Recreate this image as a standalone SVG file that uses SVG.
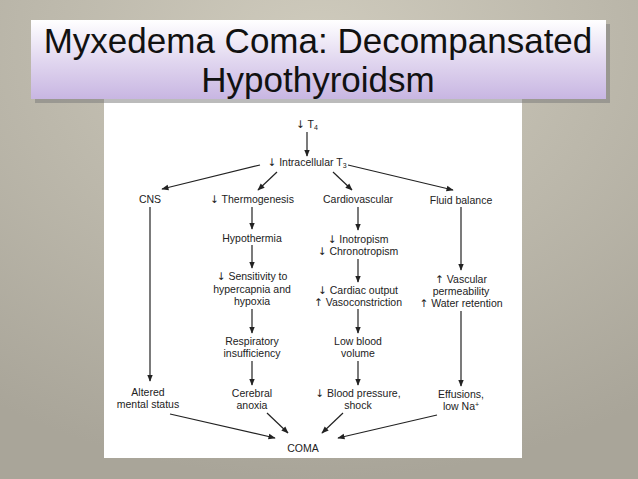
<svg xmlns="http://www.w3.org/2000/svg" width="638" height="479" viewBox="0 0 638 479">
<defs>
<radialGradient id="bg" cx="50%" cy="10%" r="90%"><stop offset="0" stop-color="#cfcbbd"/><stop offset="1" stop-color="#a9a599"/></radialGradient>
<linearGradient id="tb" x1="0" y1="0" x2="0" y2="1"><stop offset="0" stop-color="#ffffff"/><stop offset="0.5" stop-color="#e2d8f0"/><stop offset="1" stop-color="#c8b6e2"/></linearGradient>
<marker id="a" viewBox="0 0 10 10" refX="9" refY="5" markerWidth="6" markerHeight="6" orient="auto"><path d="M0,1 L10,5 L0,9 z" fill="#222"/></marker>
</defs>
<style>
.t{font-family:"Liberation Sans",Arial,sans-serif;font-size:10.5px;fill:#222;text-anchor:middle}
.r{font-family:"DejaVu Sans",sans-serif;fill:#222}
.h{font-family:"Liberation Sans",Arial,sans-serif;font-size:35px;fill:#111;text-anchor:middle}
#c line{stroke:#222;stroke-width:1.2;marker-end:url(#a)}
</style>
<rect width="638" height="479" fill="url(#bg)"/>
<rect x="104" y="98" width="418" height="360" fill="#fff"/>
<rect x="33" y="22" width="575" height="79" fill="#777" opacity="0.5" transform="translate(2,2)"/>
<rect x="31" y="20" width="575" height="79" fill="url(#tb)"/>
<text class="h" x="318" y="53">Myxedema Coma: Decompansated</text>
<text class="h" x="318" y="92">Hypothyroidsm</text>
<g id="c">
<line x1="307" y1="132" x2="307" y2="156"/>
<line x1="260" y1="165" x2="162" y2="189"/>
<line x1="277" y1="172" x2="258" y2="190"/>
<line x1="333" y1="172" x2="352" y2="190"/>
<line x1="348" y1="165" x2="453" y2="190"/>
<line x1="150" y1="207" x2="150" y2="381"/>
<line x1="252" y1="207" x2="252" y2="229"/>
<line x1="252" y1="245" x2="252" y2="268"/>
<line x1="252" y1="309" x2="252" y2="333"/>
<line x1="252" y1="361" x2="252" y2="385"/>
<line x1="358" y1="207" x2="358" y2="230"/>
<line x1="358" y1="259" x2="358" y2="282"/>
<line x1="358" y1="309" x2="358" y2="333"/>
<line x1="358" y1="361" x2="358" y2="385"/>
<line x1="461" y1="207" x2="461" y2="270"/>
<line x1="461" y1="311" x2="461" y2="386"/>
<line x1="170" y1="414" x2="275" y2="438"/>
<line x1="267" y1="413" x2="288" y2="433"/>
<line x1="343" y1="413" x2="322" y2="433"/>
<line x1="437" y1="415" x2="338" y2="438"/>
</g>
<g id="n1"><text class="t" x="307" y="128"><tspan class="r">↓</tspan> T<tspan font-size="7" dy="2">4</tspan></text></g>
<g id="n2"><text class="t" x="307" y="166"><tspan class="r">↓</tspan> Intracellular T<tspan font-size="7" dy="2">3</tspan></text></g>
<g id="n3"><text class="t" x="150" y="203">CNS</text></g>
<g id="n4"><text class="t" x="252" y="203"><tspan class="r">↓</tspan> Thermogenesis</text></g>
<g id="n5"><text class="t" x="358" y="203">Cardiovascular</text></g>
<g id="n6"><text class="t" x="461" y="204">Fluid balance</text></g>
<g id="n7"><text class="t" x="252" y="242">Hypothermia</text></g>
<g id="n8"><text class="t" x="252" y="280"><tspan class="r">↓</tspan> Sensitivity to</text><text class="t" x="252" y="293">hypercapnia and</text><text class="t" x="252" y="305">hypoxia</text></g>
<g id="n9"><text class="t" x="252" y="345">Respiratory</text><text class="t" x="252" y="357">insufficiency</text></g>
<g id="n10"><text class="t" x="252" y="397">Cerebral</text><text class="t" x="252" y="409">anoxia</text></g>
<g id="n11"><text class="t" x="358" y="243"><tspan class="r">↓</tspan> Inotropism</text><text class="t" x="358" y="255"><tspan class="r">↓</tspan> Chronotropism</text></g>
<g id="n12"><text class="t" x="358" y="294"><tspan class="r">↓</tspan> Cardiac output</text><text class="t" x="358" y="306"><tspan class="r">↑</tspan> Vasoconstriction</text></g>
<g id="n13"><text class="t" x="358" y="345">Low blood</text><text class="t" x="358" y="357">volume</text></g>
<g id="n14"><text class="t" x="358" y="397"><tspan class="r">↓</tspan> Blood pressure,</text><text class="t" x="358" y="409">shock</text></g>
<g id="n15"><text class="t" x="461" y="283"><tspan class="r">↑</tspan> Vascular</text><text class="t" x="461" y="295">permeability</text><text class="t" x="461" y="307"><tspan class="r">↑</tspan> Water retention</text></g>
<g id="n16"><text class="t" x="461" y="398">Effusions,</text><text class="t" x="461" y="410">low Na<tspan font-size="7" dy="-3">+</tspan></text></g>
<g id="n17"><text class="t" x="148" y="396">Altered</text><text class="t" x="148" y="408">mental status</text></g>
<g id="n18"><text class="t" x="303" y="452">COMA</text></g>
</svg>
